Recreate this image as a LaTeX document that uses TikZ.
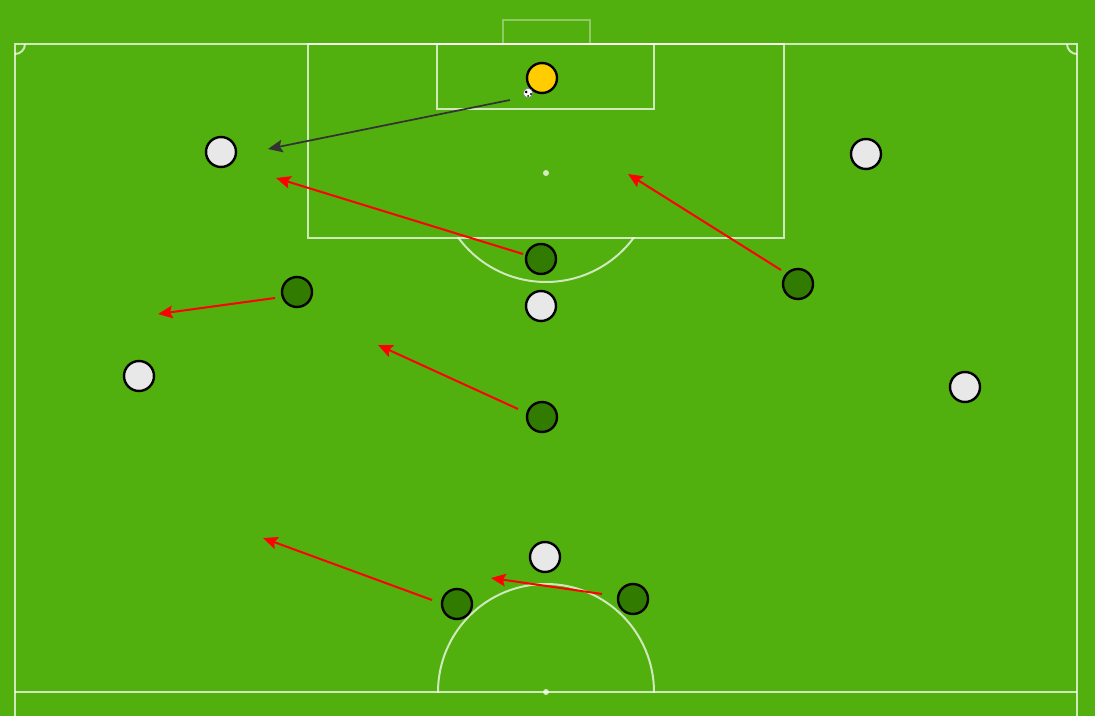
\documentclass[tikz,border=0pt]{standalone}
\usetikzlibrary{arrows.meta}

\definecolor{pitch}{HTML}{52B00E}
\definecolor{teamdark}{HTML}{317C00}
\definecolor{teamlight}{HTML}{E8E8E8}
\definecolor{keeper}{HTML}{FFCC00}
\definecolor{passgray}{HTML}{333333}

\begin{document}
\begin{tikzpicture}[x=0.75pt,y=-0.75pt]
        \tikzstyle{every node}=[inner sep=0pt]
        \tikzstyle{line}=[draw=white,draw opacity=0.72,line width=1.5pt]
        \tikzstyle{player}=[draw=black,line width=1.8pt,circle,minimum size=22.5pt]
        \tikzstyle{run}=[red,line width=1.5pt,-{Stealth[length=11pt,width=9.5pt,inset=2pt]}]
        \tikzstyle{pass}=[passgray,line width=1.3pt,-{Stealth[length=11pt,width=9.5pt,inset=2pt]}]

        % grass
        \fill[pitch] (0,0) rectangle (1095,716);
        \useasboundingbox (0,0) rectangle (1095,716);

        % markings
        \draw[line] (15,716) -- (15,44) -- (1077,44) -- (1077,716);
        \draw[line] (15,692) -- (1077,692);
        \draw[line,draw opacity=0.35] (503,44) -- (503,20) -- (590,20) -- (590,44);
        \draw[line] (308,44) rectangle (784,238);
        \draw[line] (437,44) rectangle (654,109);
        \begin{scope}
            \clip (300,238) rectangle (800,300);
            \draw[line] (546,173) circle (109);
        \end{scope}
        \begin{scope}
            \clip (400,560) rectangle (700,692);
            \draw[line] (546,692) circle (108);
        \end{scope}
        \draw[line] (25,44) arc (0:90:10);
        \draw[line] (1067,44) arc (180:90:10);
        \fill[white,opacity=0.75] (546,173) circle (3) (546,692) circle (3);

        % goalkeeper and ball
        \node[player,fill=keeper] (gk) at (542,78) {};
        \node[circle,draw=gray,fill=white,minimum size=7pt,line width=0.4pt] (ball) at (528,93) {};
        \fill[black] (526,92) circle (1.5) (531,94) circle (1.2) (528,96) circle (1);

        % light team
        \node[player,fill=teamlight] (w1) at (221,152) {};
        \node[player,fill=teamlight] (w2) at (866,154) {};
        \node[player,fill=teamlight] (w3) at (541,306) {};
        \node[player,fill=teamlight] (w4) at (139,376) {};
        \node[player,fill=teamlight] (w5) at (965,387) {};
        \node[player,fill=teamlight] (w6) at (545,557) {};

        % dark team
        \node[player,fill=teamdark] (d1) at (541,259) {};
        \node[player,fill=teamdark] (d2) at (297,292) {};
        \node[player,fill=teamdark] (d3) at (798,284) {};
        \node[player,fill=teamdark] (d4) at (542,417) {};
        \node[player,fill=teamdark] (d5) at (457,604) {};
        \node[player,fill=teamdark] (d6) at (633,599) {};

        % pass
        \coordinate (p0) at (510,100);
        \coordinate (p1) at (268,149);
        \draw[pass] (p0) -- (p1);

        % runs
        \coordinate (r1a) at (523,254);  \coordinate (r1b) at (276,178);
        \coordinate (r2a) at (781,270);  \coordinate (r2b) at (628,174);
        \coordinate (r3a) at (275,298);  \coordinate (r3b) at (158,314);
        \coordinate (r4a) at (518,409);  \coordinate (r4b) at (378,345);
        \coordinate (r5a) at (432,600);  \coordinate (r5b) at (263,538);
        \coordinate (r6a) at (602,594);  \coordinate (r6b) at (491,578);
        \draw[run] (r1a) -- (r1b);
        \draw[run] (r2a) -- (r2b);
        \draw[run] (r3a) -- (r3b);
        \draw[run] (r4a) -- (r4b);
        \draw[run] (r5a) -- (r5b);
        \draw[run] (r6a) -- (r6b);

    \end{tikzpicture}
\end{document}
